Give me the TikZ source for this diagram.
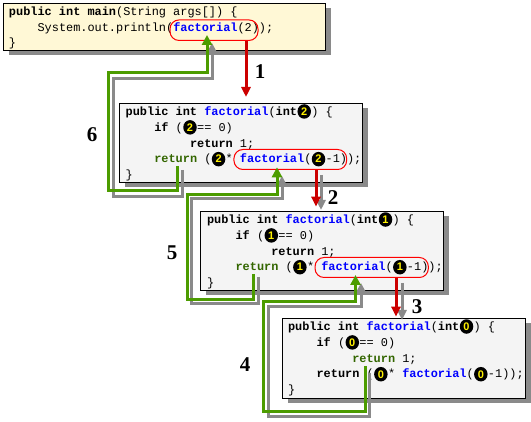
\documentclass[tikz,border=0pt]{standalone}
\usepackage{fontspec}
\setmainfont{Liberation Serif}
\newfontfamily\codefont{Liberation Mono}
\newfontfamily\numsans{Liberation Sans}
\usetikzlibrary{arrows.meta,shadows}
\definecolor{cream}{RGB}{255,248,214}
\definecolor{boxgray}{RGB}{244,244,244}
\definecolor{shadowc}{RGB}{138,138,138}
\definecolor{garrowc}{RGB}{76,156,0}
\definecolor{retgreen}{RGB}{51,102,0}
\definecolor{redc}{RGB}{204,0,0}
\definecolor{ovalred}{RGB}{255,0,0}
\definecolor{fnblue}{RGB}{0,0,255}
\newcommand{\kw}[1]{\textbf{#1}}
\newcommand{\fn}[1]{\textcolor{fnblue}{\textbf{#1}}}
\newcommand{\rt}[1]{\textcolor{retgreen}{\textbf{#1}}}
\newcommand{\cn}[1]{\makebox[14.28pt]{\tikz[baseline=(cnd.base)]\node[ellipse,fill=black,draw=none,anchor=center,inner sep=0pt,minimum width=13.5pt,minimum height=14.5pt,text=yellow,font=\numsans\bfseries\fontsize{11}{11}\selectfont](cnd) at (0,0){#1};}}
\frenchspacing
\usetikzlibrary{shapes.geometric}
\begin{document}
\begin{tikzpicture}[x=1pt,y=-1pt,
  code/.style={anchor=base west, inner sep=0pt, font=\codefont\fontsize{11.9}{14}\selectfont},
  codebox/.style={draw=black, line width=1pt, anchor=north west, inner sep=0pt,
     drop shadow={shadow xshift=5pt, shadow yshift=-5pt, fill=shadowc, opacity=1}},
  oval/.style={draw=ovalred, line width=1pt, rounded corners=9pt, inner sep=0pt, minimum height=20pt},
  garrow/.style={draw=garrowc, line width=3pt, line join=miter, -{Triangle[length=10pt,width=10pt]}},
  sarrow/.style={draw=shadowc, line width=3pt, line join=miter, -{Triangle[length=10pt,width=10pt]}},
  rarrow/.style={draw=redc, line width=3pt, -{Triangle[length=10pt,width=9pt]}},
  srarrow/.style={draw=shadowc, line width=3pt, -{Triangle[length=10pt,width=9pt]}},
  lab/.style={font=\bfseries\fontsize{21}{21}\selectfont, inner sep=0pt}]
\useasboundingbox[fill=white] (0,0) rectangle (531,422);

% boxes
\node[codebox, fill=cream, minimum width=322pt, minimum height=47pt] (mb) at (3,3) {};
\node[codebox, fill=boxgray, minimum width=243pt, minimum height=79pt] (b2) at (119,103) {};
\node[codebox, fill=boxgray, minimum width=243pt, minimum height=79pt] (b3) at (200,211) {};
\node[codebox, fill=boxgray, minimum width=243pt, minimum height=80pt] (b4) at (282,318) {};

% main text
\node[code] (m1) at (8.8,16) {\kw{public int main}(String args[]) \{};
\node[code] (m2) at (37.4,31.7) {System.out.println(\fn{factorial}(2));};
\node[code] (m3) at (8.8,47) {\}};

% box 2
\node[code] (b2l1) at (125.5,115.3) {\kw{public int} \fn{factorial}(\kw{int}\cn{2}) \{};
\node[code] (b2l2) at (154.1,131.2) {\kw{if} (\cn{2}== 0)};
\node[code] (b2l3) at (189.8,147.1) {\kw{return} 1;};
\node[code] (b2l4) at (154.1,163) {\rt{return} (\cn{2}* \fn{factorial}(\cn{2}-1));};
\node[code] (b2l5) at (125.5,178.9) {\}};

% box 3
\node[code] (b3l1) at (206.8,223.3) {\kw{public int} \fn{factorial}(\kw{int}\cn{1}) \{};
\node[code] (b3l2) at (235.4,239.2) {\kw{if} (\cn{1}== 0)};
\node[code] (b3l3) at (271.1,255.1) {\kw{return} 1;};
\node[code] (b3l4) at (235.4,271) {\rt{return} (\cn{1}* \fn{factorial}(\cn{1}-1));};
\node[code] (b3l5) at (206.8,286.9) {\}};

% box 4
\node[code] (b4l1) at (287.8,330.3) {\kw{public int} \fn{factorial}(\kw{int}\cn{0}) \{};
\node[code] (b4l2) at (316.4,346.2) {\kw{if} (\cn{0}== 0)};
\node[code] (b4l3) at (352.1,362.1) {\rt{return} 1;};
\node[code] (b4l4) at (316.4,378) {\kw{return} (\cn{0}* \fn{factorial}(\cn{0}-1));};
\node[code] (b4l5) at (287.8,393.9) {\}};

% ovals
\node[oval, minimum width=88pt, minimum height=20.5pt] (mo) at (214,30.2) {};
\node[oval, minimum width=112.7pt] (o2) at (290.3,159.5) {};
\node[oval, minimum width=113.3pt] (o3) at (371.7,267.5) {};

% coordinates
\coordinate (g6s) at (177,166);   \coordinate (g6a) at (108,191);   \coordinate (g6b) at (207,73);    \coordinate (g6e) at (207,35);
\coordinate (s6s) at (182,170);   \coordinate (s6a) at (113,197);   \coordinate (s6b) at (212,79);    \coordinate (s6e) at (212,43);
\coordinate (g5s) at (253.3,274); \coordinate (g5a) at (187,299.5); \coordinate (g5b) at (277,195);   \coordinate (g5e) at (277,167.3);
\coordinate (s5s) at (258.3,277); \coordinate (s5a) at (191,303.5); \coordinate (s5b) at (282,199);   \coordinate (s5e) at (282,176);
\coordinate (g4s) at (365,366);   \coordinate (g4a) at (263.3,411.7); \coordinate (g4b) at (355.5,302); \coordinate (g4e) at (355.5,275);
\coordinate (s4s) at (369.5,373); \coordinate (s4a) at (268.3,416.7); \coordinate (s4b) at (361,307);   \coordinate (s4e) at (361,283);
\coordinate (r1e) at (246,97);
\coordinate (r2e) at (316,206.7);
\coordinate (r3e) at (396,316.7);
\coordinate (q2s) at (321,175);   \coordinate (q2e) at (321,210);
\coordinate (q3s) at (402,283);   \coordinate (q3e) at (402,320);

% shadow arrows
\draw[sarrow] (s6s) |- (s6a) |- (s6b) -- (s6e);
\draw[sarrow] (s5s) |- (s5a) |- (s5b) -- (s5e);
\draw[sarrow] (s4s) |- (s4a) |- (s4b) -- (s4e);
\draw[srarrow] (q2s) -- (q2e);
\draw[srarrow] (q3s) -- (q3e);

% green arrows
\draw[garrow] (g6s) |- (g6a) |- (g6b) -- (g6e);
\draw[garrow] (g5s) |- (g5a) |- (g5b) -- (g5e);
\draw[garrow] (g4s) |- (g4a) |- (g4b) -- (g4e);

% red arrows
\draw[rarrow] (mo.south -| r1e) -- (r1e);
\draw[rarrow] (o2.south -| r2e) -- (r2e);
\draw[rarrow] (o3.south -| r3e) -- (r3e);

% labels
\node[lab] (n1) at (260,72) {1};
\node[lab] (n2) at (333,198) {2};
\node[lab] (n3) at (417,307) {3};
\node[lab] (n4) at (245,365) {4};
\node[lab] (n5) at (172,253) {5};
\node[lab] (n6) at (92,135) {6};
\end{tikzpicture}
\end{document}
